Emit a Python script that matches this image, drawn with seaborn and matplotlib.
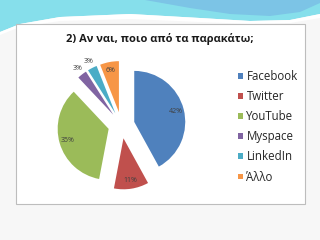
import matplotlib
matplotlib.use("Agg")
import numpy as np
import seaborn as sns
from matplotlib import pyplot as plt
from matplotlib.patches import Rectangle, Polygon

# data
categories = ["Facebook", "Twitter", "YouTube", "Myspace", "LinkedIn", "Άλλο"]
shares = [42, 11, 35, 3, 3, 6]
colors = ["#4F81BD", "#C0504D", "#9BBB59", "#8064A2", "#4BACC6", "#F79646"]
title = "2) Αν ναι, ποιο από τα παρακάτω;"

sns.set_theme(style="white")
plt.rcParams["font.family"] = ["Open Sans", "DejaVu Sans"]

fig = plt.figure(figsize=(3.2, 2.4), dpi=100)
fig.patch.set_facecolor("#f7f7f7")

# slide background (pixel coordinates)
bg = fig.add_axes([0, 0, 1, 1])
bg.set_xlim(0, 320)
bg.set_ylim(240, 0)
bg.axis("off")
bg.add_patch(Polygon([(0, 0), (320, 0), (320, 14), (290, 20), (250, 21), (200, 18),
                      (130, 14), (60, 17), (20, 24), (0, 32)],
                     closed=True, facecolor="#86dfeb", edgecolor="none"))
bg.add_patch(Polygon([(145, 0), (320, 0), (320, 3), (300, 12), (270, 16), (230, 14),
                      (190, 8)], closed=True, facecolor="#7cc4e6", edgecolor="none"))
bg.add_patch(Polygon([(0, 32), (20, 24), (60, 17), (130, 14), (200, 18), (250, 21),
                      (290, 20), (320, 14), (320, 18), (290, 23), (250, 24), (200, 22),
                      (130, 19), (60, 21), (20, 27), (0, 35)],
                     closed=True, facecolor="#ffffff", edgecolor="none"))
bg.add_patch(Rectangle((16, 24), 289, 180, facecolor="white", edgecolor="#bdbdbd", lw=0.8))

# pie axes
ax = fig.add_axes([0, 0, 1, 1])
ax.axis("off")

palette = sns.color_palette(colors)
wedges, texts, autotexts = ax.pie(
    shares, colors=palette, startangle=90, counterclock=False,
    explode=[0.26] * len(shares), radius=1.0,
    autopct="%1.0f%%", pctdistance=0.84,
    textprops=dict(fontsize=5, color="#404040"),
    wedgeprops=dict(linewidth=0))

# 1 unit = 51 px, centre at (121, 125) px
ax.set_aspect("auto")
ax.set_xlim(-121.4 / 51, (320 - 121.4) / 51)
ax.set_ylim(-(240 - 125.2) / 51, 125.2 / 51)

# small slices: labels outside
for i in (3, 4):
    w = wedges[i]
    ang = np.deg2rad((w.theta1 + w.theta2) / 2)
    cx, cy = w.center
    autotexts[i].set_position((cx + 1.15 * np.cos(ang), cy + 1.15 * np.sin(ang)))

ax.legend(wedges, categories, loc="upper left", bbox_to_anchor=(0.727, 0.733),
          frameon=False, fontsize=8.3, handlelength=0.4, handleheight=0.4,
          handletextpad=0.3, labelspacing=0.62, borderpad=0, labelcolor="#262626")

fig.text(0.5, 1 - 39 / 240, title, ha="center", va="center",
         fontsize=8, fontweight="bold", color="#1a1a1a")

fig.savefig("out.png", dpi=100, facecolor=fig.get_facecolor())
